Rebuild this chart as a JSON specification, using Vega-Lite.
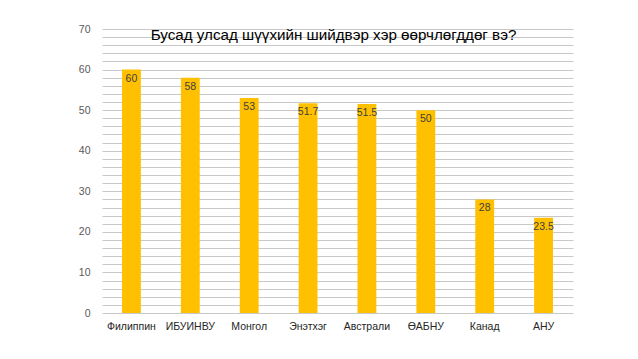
{
  "$schema": "https://vega.github.io/schema/vega-lite/v6.json",
  "width": 471,
  "height": 284,
  "autosize": {"type": "none"},
  "padding": {"left": 102, "top": 29, "right": 65, "bottom": 46},
  "background": "white",
  "title": {
    "text": "Бусад улсад шүүхийн шийдвэр хэр өөрчлөгддөг вэ?",
    "font": "Liberation Sans",
    "fontSize": 15.2,
    "fontWeight": "normal",
    "color": "#000000",
    "anchor": "middle",
    "offset": -19,
    "dx": -4
  },
  "data": {
    "values": [
      {"country": "Филиппин", "value": 60},
      {"country": "ИБУИНВУ", "value": 58},
      {"country": "Монгол", "value": 53},
      {"country": "Энэтхэг", "value": 51.7},
      {"country": "Австрали", "value": 51.5},
      {"country": "ӨАБНУ", "value": 50},
      {"country": "Канад", "value": 28},
      {"country": "АНУ", "value": 23.5}
    ]
  },
  "encoding": {
    "x": {
      "field": "country",
      "type": "nominal",
      "sort": null,
      "scale": {"paddingInner": 0.68, "paddingOuter": 0.34},
      "axis": {
        "title": null,
        "labelAngle": 0,
        "domain": false,
        "ticks": false,
        "labelFont": "Liberation Sans",
        "labelFontSize": 10.5,
        "labelColor": "#262626",
        "labelPadding": 8
      }
    },
    "y": {
      "field": "value",
      "type": "quantitative",
      "scale": {"domain": [0, 70], "nice": false},
      "axis": {
        "title": null,
        "values": [0,2,4,6,8,10,12,14,16,18,20,22,24,26,28,30,32,34,36,38,40,42,44,46,48,50,52,54,56,58,60,62,64,66,68,70],
        "labelExpr": "datum.value % 10 === 0 ? datum.label : ''",
        "domain": false,
        "ticks": false,
        "grid": true,
        "gridColor": "#c8c8c8",
        "gridWidth": 1,
        "labelFont": "Liberation Sans",
        "labelFontSize": 10.5,
        "labelColor": "#595959",
        "labelPadding": 12
      }
    }
  },
  "layer": [
    {"mark": {"type": "bar", "color": "#FFC000"}},
    {
      "mark": {"type": "text", "baseline": "top", "dy": 4, "font": "Liberation Sans", "fontSize": 10.5, "color": "#404040"},
      "encoding": {"text": {"field": "value", "type": "quantitative"}}
    }
  ],
  "config": {"view": {"stroke": null}}
}
